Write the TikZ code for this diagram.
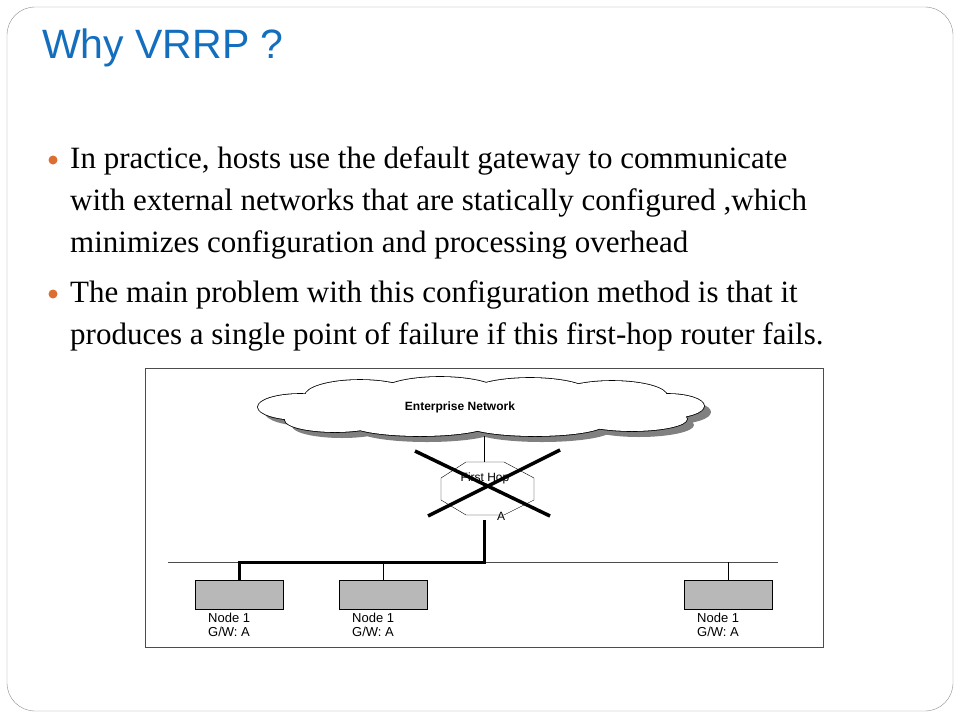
\documentclass[tikz,border=0pt]{standalone}
\usepackage{fontspec}
\setmainfont{Liberation Serif}
\setsansfont{Liberation Sans}
\definecolor{ttl}{RGB}{20,110,190}
\definecolor{bul}{RGB}{220,110,50}
\tikzset{
  bl/.style={anchor=west,font=\fontsize{31}{34}\selectfont,inner sep=0},
  dot/.style={circle,fill=bul,inner sep=0,minimum size=9pt},
  hostbox/.style={draw,fill=black!28,minimum width=88pt,minimum height=29pt,inner sep=0},
  lbl/.style={font=\sffamily\fontsize{13}{14}\selectfont,align=left,anchor=north west,inner sep=0},
}
\newcommand{\puffs}{%
  (300,407) ellipse (42 and 13)
  (360,396) ellipse (55 and 16)
  (440,393) ellipse (60 and 16)
  (530,393) ellipse (60 and 15)
  (612,396) ellipse (55 and 15)
  (668,406) ellipse (36 and 12)
  (335,420) ellipse (50 and 12)
  (420,424) ellipse (70 and 12)
  (535,424) ellipse (70 and 12)
  (632,419) ellipse (55 and 12)
  (480,410) ellipse (180 and 16)}
\begin{document}
\begin{tikzpicture}[x=1pt,y=-1pt]
\useasboundingbox (0,0) rectangle (960,720);
\draw[black!45,rounded corners=28pt] (7,7) rectangle (953,711);
\node[anchor=west,inner sep=0,text=ttl,font=\sffamily\fontsize{41}{45}\selectfont] (title) at (42,48) {Why VRRP ?};
\node[dot] (d1) at (53,160) {};
\node[bl] (t1) at (70,161) {In practice, hosts use the default gateway to communicate};
\node[bl] (t2) at (70,203) {with external networks that are statically configured ,which};
\node[bl] (t3) at (70,245) {minimizes configuration and processing overhead};
\node[dot] (d2) at (53,294) {};
\node[bl] (t4) at (70,295) {The main problem with this configuration method is that it};
\node[bl] (t5) at (70,337) {produces a single point of failure if this first-hop router fails.};
% diagram
\draw[black!70] (145,368) rectangle (823,647);
\begin{scope}[shift={(7,6)}]
\fill[black!50] \puffs;
\end{scope}
\draw[line width=1.6pt] \puffs;
\fill[white] \puffs;
\node[font=\sffamily\bfseries\fontsize{12}{13}\selectfont,inner sep=0] (cloud) at (460,407) {Enterprise Network};
\coordinate (cb) at (484,436);
\draw[fill=white] (466,462) -- (504,462) -- (534,478) -- (534,500) -- (504,515) -- (466,515) -- (441,500) -- (441,478) -- cycle;
\coordinate (fhn) at (484,462);
\draw (cb) -- (fhn);
\node[font=\sffamily\fontsize{12}{13}\selectfont,inner sep=0] (fht) at (485,478) {First Hop};
\node[font=\sffamily\fontsize{12}{13}\selectfont,inner sep=0] (a) at (501,516) {A};
\coordinate (x1) at (415,451); \coordinate (x2) at (550,516);
\coordinate (x3) at (560,450); \coordinate (x4) at (428,516);
\draw[line width=3.5pt] (x1) -- (x2);
\draw[line width=3.5pt] (x3) -- (x4);
\coordinate (busl) at (168,562); \coordinate (busr) at (778,562);
\draw[black!70] (busl) -- (busr);
\node[hostbox] (h1) at (239,595) {};
\node[hostbox] (h2) at (383,595) {};
\node[hostbox] (h3) at (728,595) {};
\coordinate (fhb) at (484,520);
\draw[line width=3pt] (fhb) -- (484,562) -- (239,562) -- (h1.north);
\draw (h2.north) -- (383,562);
\draw (h3.north) -- (728,562);
\node[lbl] (l1) at (208,613) {Node 1\\G/W: A};
\node[lbl] (l2) at (352,613) {Node 1\\G/W: A};
\node[lbl] (l3) at (697,613) {Node 1\\G/W: A};
\end{tikzpicture}
\end{document}
